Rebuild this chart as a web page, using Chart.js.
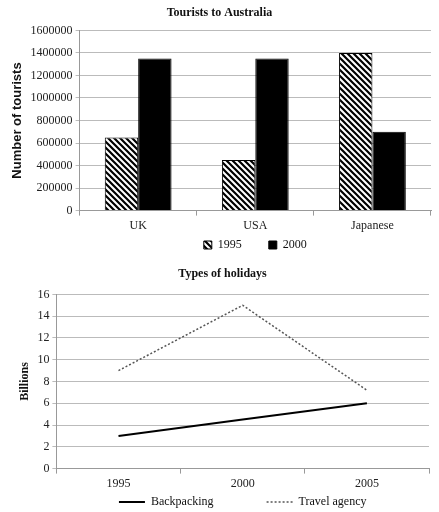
<!DOCTYPE html>
<html>
<head>
<meta charset="utf-8">
<script src="https://cdn.jsdelivr.net/npm/chart.js@4"></script>
<style>
  body { margin: 0; background: #fff; }
  .box { position: absolute; left: 0; width: 439px; }
</style>
</head>
<body>
<div class="box" style="top: 0; height: 250px;"><canvas id="tourists"></canvas></div>
<div class="box" style="top: 250px; height: 262px;"><canvas id="holidays"></canvas></div>

<script>
// Tourists to Australia
const countries = ['UK', 'USA', 'Japanese'];
const tourists1995 = [650000, 450000, 1400000];
const tourists2000 = [1350000, 1350000, 700000];

// Types of holidays (billions)
const years = ['1995', '2000', '2005'];
const backpacking = [3, 4.5, 6];
const travelAgency = [9, 15, 7.2];

const serif = '"Liberation Serif", "Times New Roman", serif';

// diagonal stripes for the 1995 bars
function hatch() {
    const c = document.createElement('canvas');
    c.width = 6; c.height = 6;
    const g = c.getContext('2d');
    g.fillStyle = '#fff';
    g.fillRect(0, 0, 6, 6);
    g.strokeStyle = '#000';
    g.lineWidth = 2.2;
    g.beginPath();
    g.moveTo(-1, -1); g.lineTo(7, 7);
    g.moveTo(-1, 5); g.lineTo(1, 7);
    g.moveTo(5, -1); g.lineTo(7, 1);
    g.stroke();
    return g.createPattern(c, 'repeat');
}

// legend items: keep the dash of the line and widen the gap after the first item
function legendItems(gap) {
    return function (chart) {
        const items = Chart.defaults.plugins.legend.labels.generateLabels(chart);
        items.forEach((it, i) => {
            const ds = chart.data.datasets[i];
            it.lineDash = ds.borderDash || [];
            if (i === 0) it.text = it.text + ' '.repeat(gap);
        });
        return items;
    };
}

Chart.defaults.font.family = serif;
Chart.defaults.color = '#222';
Chart.defaults.animation = false;
Chart.defaults.maintainAspectRatio = false;

new Chart(document.getElementById('tourists'), {
    type: 'bar',
    data: {
        labels: countries,
        datasets: [
            { label: '1995', data: tourists1995, backgroundColor: hatch(), borderColor: '#000', borderWidth: 1 },
            { label: '2000', data: tourists2000, backgroundColor: '#000', borderColor: '#000', borderWidth: 1 }
        ]
    },
    options: {
        layout: { padding: { left: 8, right: 8, top: 0, bottom: -11 } },
        datasets: { bar: { categoryPercentage: 0.57, barPercentage: 1 } },
        plugins: {
            title: { display: true, text: 'Tourists to Australia', color: '#111',
                     font: { family: serif, size: 12, weight: 'bold' }, padding: { top: 6, bottom: 10 } },
            legend: { position: 'bottom', fullSize: false,
                      labels: { boxWidth: 8, boxHeight: 8, padding: 3, color: '#111', font: { size: 12 },
                                generateLabels: legendItems(8) } },
            tooltip: { enabled: false }
        },
        scales: {
            x: {
                grid: { offset: true, drawOnChartArea: false, drawTicks: true, tickLength: 5, color: '#999' },
                border: { color: '#999' },
                ticks: { color: '#222', font: { size: 12 }, padding: 3 }
            },
            y: {
                min: 0, max: 1600000,
                grid: { color: '#bbb', drawTicks: true, tickLength: 4 },
                border: { color: '#999' },
                ticks: { stepSize: 200000, color: '#222', font: { size: 12 }, callback: v => String(v) },
                title: { display: true, text: 'Number of tourists', color: '#111',
                         font: { family: '"Liberation Sans", Arial, sans-serif', size: 13, weight: 'bold' }, padding: 2 }
            }
        }
    }
});

new Chart(document.getElementById('holidays'), {
    type: 'line',
    data: {
        labels: years,
        datasets: [
            { label: 'Backpacking', data: backpacking, borderColor: '#000', borderWidth: 2,
              backgroundColor: '#000', pointRadius: 0, tension: 0 },
            { label: 'Travel agency', data: travelAgency, borderColor: '#555', borderWidth: 1.5,
              borderDash: [2, 2], backgroundColor: '#555', pointRadius: 0, tension: 0 }
        ]
    },
    options: {
        layout: { padding: { left: 16, right: 10, top: 0, bottom: -6 } },
        plugins: {
            title: { display: true, text: 'Types of holidays', color: '#111',
                     font: { family: serif, size: 12, weight: 'bold' }, padding: { top: 17, bottom: 13 } },
            legend: { position: 'bottom', fullSize: false,
                      labels: { usePointStyle: true, pointStyle: 'line', pointStyleWidth: 26, boxHeight: 8,
                                padding: 2, color: '#111', font: { size: 12 }, generateLabels: legendItems(17) } },
            tooltip: { enabled: false }
        },
        scales: {
            x: {
                offset: true,
                grid: { offset: true, drawOnChartArea: false, drawTicks: true, tickLength: 5, color: '#999' },
                border: { color: '#999' },
                ticks: { color: '#222', font: { size: 12 }, padding: 3 }
            },
            y: {
                min: 0, max: 16,
                grid: { color: '#bbb', drawTicks: true, tickLength: 4 },
                border: { color: '#999' },
                ticks: { stepSize: 2, color: '#222', font: { size: 12 } },
                title: { display: true, text: 'Billions', color: '#111',
                         font: { family: serif, size: 12, weight: 'bold' }, padding: 2 }
            }
        }
    }
});
</script>
</body>
</html>
